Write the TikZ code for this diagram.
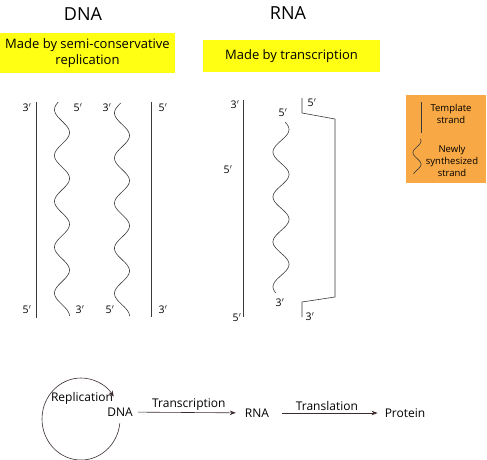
\documentclass[tikz,border=0pt]{standalone}
\usepackage{fontspec}
\setmainfont{Open Sans}
\usetikzlibrary{positioning, arrows.meta}
\definecolor{noteyellow}{HTML}{FFFF14}
\definecolor{legendorange}{HTML}{F8A844}
\definecolor{strandgray}{HTML}{3A3A3A}
\definecolor{arrowbrown}{HTML}{3A2C2C}
\tikzset{
  heading/.style={font=\fontsize{18}{20}\selectfont},
  notebox/.style={fill=noteyellow, align=center, inner sep=2pt, font=\fontsize{13}{16}\selectfont},
  strand/.style={draw=strandgray, semithick},
  endlabel/.style={font=\fontsize{10.5}{11}\selectfont, inner sep=0pt},
  legendtext/.style={font=\fontsize{9.5}{12}\selectfont, align=center, inner sep=0pt},
  flowtext/.style={font=\fontsize{12}{13}\selectfont, inner sep=1pt},
  flowarrow/.style={draw=arrowbrown, semithick, -{Stealth[length=6pt,width=4.5pt]}}
}
% wavy strand: x centre, amplitude, y top, y bottom, start phase, end phase
\newcommand{\wavestrand}[6]{%
  \draw[strand] plot[domain=#5:#6, samples=160, smooth, variable=\ph]
    ({#1+#2*sin(\ph)}, {#3+((\ph-#5)/(#6-#5))*(#4-#3)});}
\begin{document}
\begin{tikzpicture}[x=1pt,y=-1pt]
  \useasboundingbox (0,0) rectangle (487,460);
  % headings and notes
  \node[heading] (dnatitle) at (83,14) {DNA};
  \node[heading] (rnatitle) at (288,13) {RNA};
  \node[notebox, minimum width=175pt, minimum height=40pt] (dnanote) at (87.5,53) {Made by semi-conservative\\replication};
  \node[notebox, minimum width=177pt, minimum height=32pt] (rnanote) at (291.5,56) {Made by transcription};
  % DNA: two templates, two new strands
  \draw[strand] (36,102) -- (36,318);
  \wavestrand{62}{7.5}{102}{316}{210}{1890}
  \wavestrand{122}{7.5}{103}{316}{190}{1890}
  \draw[strand] (151,102) -- (151,317);
  \node[endlabel] (dnaAtop) at (27,108) {3$'$};
  \node[endlabel] (dnaAbot) at (27,310) {5$'$};
  \node[endlabel] (dnaBtop) at (78,108) {5$'$};
  \node[endlabel] (dnaBbot) at (80,310) {3$'$};
  \node[endlabel] (dnaCtop) at (107,108) {3$'$};
  \node[endlabel] (dnaCbot) at (110,310) {5$'$};
  \node[endlabel] (dnaDtop) at (163,108) {5$'$};
  \node[endlabel] (dnaDbot) at (163,310) {3$'$};
  % RNA: template, transcript, coding strand
  \draw[strand] (243,100) -- (243,317);
  \wavestrand{281}{8}{122}{293}{30}{1400}
  \draw[strand] (302,98) -- (302,113) -- (335,119) -- (335,297) -- (302,302) -- (302,317);
  \node[endlabel] (rnaAtop) at (235,105) {3$'$};
  \node[endlabel] (rnaAmid) at (228,170) {5$'$};
  \node[endlabel] (rnaAbot) at (237,318) {5$'$};
  \node[endlabel] (rnaBtop) at (283,113) {5$'$};
  \node[endlabel] (rnaBbot) at (280,303) {3$'$};
  \node[endlabel] (rnaCtop) at (312,103) {5$'$};
  \node[endlabel] (rnaCbot) at (310,317) {3$'$};
  % legend
  \fill[legendorange] (406,95) rectangle (486,183);
  \draw[strand] (421,102) -- (421,133);
  \wavestrand{417}{4}{139}{174}{60}{600}
  \node[legendtext] (tmpllabel) at (451,114) {Template\\strand};
  \node[legendtext] (newlabel) at (452,161) {Newly\\synthesized\\strand};
  % central dogma
  \node[flowtext] (dna) at (120,412) {DNA};
  \node[flowtext] (rna) at (257,413) {RNA};
  \node[flowtext] (protein) at (405,413) {Protein};
  \node[flowtext] (repl) at (82,398) {Replication};
  \coordinate (loopstart) at (119.8,423.3);
  \draw[flowarrow] (loopstart) arc[start angle=6, end angle=327, x radius=39, y radius=41];
  \draw[flowarrow, shorten <=4pt, shorten >=8pt] (dna) -- node[flowtext, above=1pt] (transcr) {Transcription} (rna);
  \draw[flowarrow, shorten <=12pt, shorten >=6pt] (rna) -- node[flowtext, above=1pt] (transl) {Translation} (protein);
\end{tikzpicture}
\end{document}
